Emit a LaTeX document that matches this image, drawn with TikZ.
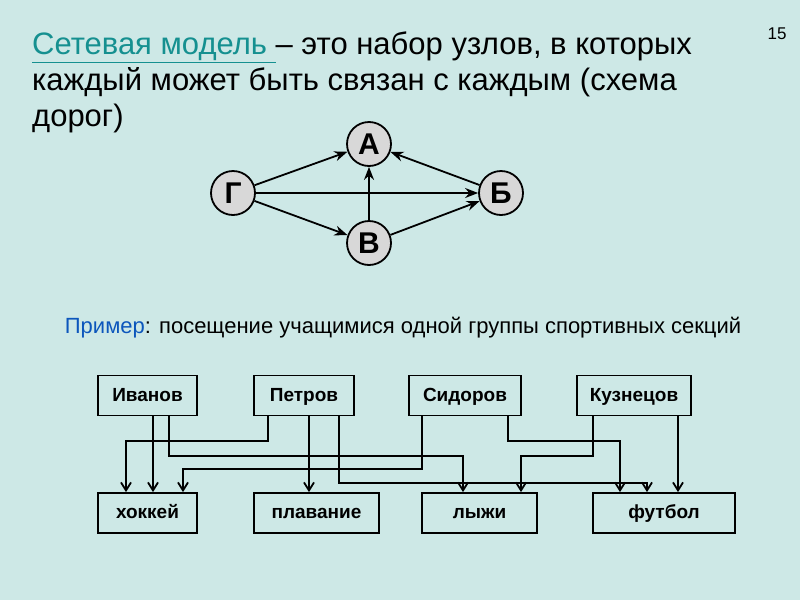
\documentclass[tikz,border=0pt]{standalone}
\usepackage{fontspec}
\setmainfont{Liberation Sans}
\usetikzlibrary{arrows.meta}
\definecolor{bg}{HTML}{CDE8E6}
\definecolor{teal}{HTML}{159090}
\definecolor{nfill}{HTML}{D8D8D8}
\begin{document}
\begin{tikzpicture}[x=1pt,y=-1pt,
  circ/.style={circle,draw,line width=1.8pt,fill=nfill,minimum size=44pt,inner sep=0pt,font=\fontsize{30}{32}\selectfont\bfseries},
  box/.style={draw,line width=1.8pt,fill=bg,minimum height=40pt,text height=14pt,text depth=3pt,font=\fontsize{19}{21}\selectfont\bfseries,inner sep=0pt},
  arr/.style={-{Stealth[length=13pt,width=10pt]},line width=1.8pt},
  ln/.style={-{Straight Barb[length=8pt,width=10pt]},line width=1.8pt}]
\fill[bg] (0,0) rectangle (800,600);
\node[anchor=north west,align=left,font=\fontsize{31}{36}\selectfont,inner sep=0pt] (title) at (32,32)
 {\textcolor{teal}{\underline{Сетевая модель }}– это набор узлов, в которых\\каждый может быть связан с каждым (схема\\дорог)};
\node[font=\fontsize{17}{19}\selectfont] (pg) at (777,34) {15};
\node[circ] (A) at (369,144) {А};
\node[circ] (G) at (233,193) {Г};
\node[circ] (B) at (501,193) {Б};
\node[circ] (V) at (369,243) {В};
\draw[arr] (G) -- (A);
\draw[arr] (G) -- (B);
\draw[arr] (G) -- (V);
\draw[arr] (V) -- (A);
\draw[arr] (V) -- (B);
\draw[arr] (B) -- (A);
\node[font=\fontsize{22}{24}\selectfont] (ex) at (403,328) {\textcolor{teal!60!blue}{Пример}: посещение учащимися одной группы спортивных секций};
\node[box,minimum width=99pt] (iv) at (147.5,395.5) {Иванов};
\node[box,minimum width=100pt] (pe) at (304,395.5) {Петров};
\node[box,minimum width=112pt] (si) at (465,395.5) {Сидоров};
\node[box,minimum width=114pt] (ku) at (634,395.5) {Кузнецов};
\node[box,minimum width=99pt] (ho) at (147.5,513) {хоккей};
\node[box,minimum width=125pt] (pl) at (316.5,513) {плавание};
\node[box,minimum width=115pt] (ly) at (479.5,513) {лыжи};
\node[box,minimum width=142pt] (fu) at (664,513) {футбол};
\draw[ln] (iv.south -| 153,0) -- (ho.north -| 153,0);
\draw[ln] (iv.south -| 169,0) |- (463,456) -- (ly.north -| 463,0);
\draw[ln] (pe.south -| 268,0) |- (126,441) -- (ho.north -| 126,0);
\draw[ln] (pe.south -| 309,0) -- (pl.north -| 309,0);
\draw[ln] (pe.south -| 339,0) |- (647,483) -- (fu.north -| 647,0);
\draw[ln] (si.south -| 422,0) |- (183,469) -- (ho.north -| 183,0);
\draw[ln] (si.south -| 508,0) |- (620,441) -- (fu.north -| 620,0);
\draw[ln] (ku.south -| 593,0) |- (521,456) -- (ly.north -| 521,0);
\draw[ln] (ku.south -| 678,0) -- (fu.north -| 678,0);
\end{tikzpicture}
\end{document}
